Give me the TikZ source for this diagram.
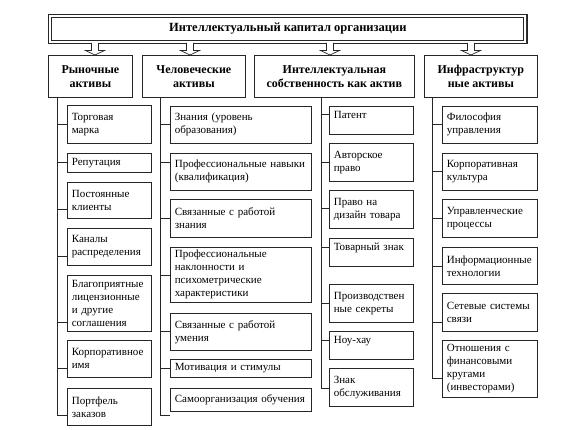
\documentclass[tikz,border=0pt]{standalone}
\usepackage{fontspec}
\setmainfont{Liberation Serif}
\usetikzlibrary{calc}
\begin{document}
\begin{tikzpicture}[x=1pt,y=-1pt,
  ln/.style={line width=0.7pt, draw=black!85},
  titlebox/.style={ln, draw, anchor=north west, font=\fontsize{12.5}{14}\selectfont\bfseries, inner sep=0pt},
  hdr/.style={ln, draw, anchor=north west, font=\fontsize{12}{14}\selectfont\bfseries, align=center, inner sep=0pt, minimum height=42pt},
  kid/.style={ln, draw, anchor=north west, font=\fontsize{11}{13}\selectfont, align=left, inner xsep=4.5pt, inner ysep=0pt},
  hi/.style={text depth=10.5pt},
  k1/.style={kid, text width=75pt},
  k2/.style={kid, text width=132pt},
  k3/.style={kid, text width=75pt},
  k4/.style={kid, text width=86pt},
  blockarrow/.pic={\draw[ln, fill=white] (-3.5,0) -- (-3.5,7.5) -- (-9.5,7.5) -- (0,12) -- (9.5,7.5) -- (3.5,7.5) -- (3.5,0);}
]
\useasboundingbox (0,0) rectangle (576,430);

% title
\node[titlebox, minimum width=479pt, minimum height=29pt] (top) at (48,14) {Интеллектуальный капитал организации};
\draw[ln] ($(top.north west)+(3.5,3.5)$) rectangle ($(top.south east)+(-4.5,-3.5)$);
\draw[line width=1.2pt, black!80] ($(top.north east)+(-1,0)$) -- ($(top.south east)+(-1,0)$);

% headers
\node[hdr, minimum width=84pt] (h1) at (48,55) {Рыночные\\активы};
\node[hdr, minimum width=103pt] (h2) at (142,55) {Человеческие\\активы};
\node[hdr, minimum width=160pt] (h3) at (254,55) {Интеллектуальная\\собственность как актив};
\node[hdr, minimum width=113pt] (h4) at (424,55) {Инфраструктур\\ные активы};

% block arrows
\pic at (95,43) {blockarrow};
\pic at (190,43) {blockarrow};
\pic at (330,43) {blockarrow};
\pic at (471,43) {blockarrow};

% column 1
\node[k1, minimum height=38pt] (b11) at (67,105) {Торговая\\марка};
\node[k1, minimum height=19pt] (b12) at (67,153) {Репутация};
\node[k1, minimum height=36pt] (b13) at (67,182) {Постоянные\\клиенты};
\node[k1, minimum height=37pt] (b14) at (67,228) {Каналы\\распределения};
\node[k1, minimum height=56pt] (b15) at (67,275) {Благоприятные\\лицензионные\\и другие\\соглашения};
\node[k1, minimum height=37pt] (b16) at (67,340) {Корпоративное\\имя};
\node[k1, minimum height=37pt] (b17) at (67,388) {Портфель\\заказов};

% column 2
\node[k2, minimum height=37pt] (b21) at (170,106) {Знания (уровень\\образования)};
\node[k2, minimum height=37pt] (b22) at (170,153) {\mbox{Профессиональные навыки}\\(квалификация)};
\node[k2, minimum height=38pt] (b23) at (170,199) {Связанные с работой\\знания};
\node[k2, minimum height=55pt] (b24) at (170,247) {Профессиональные\\наклонности и\\психометрические\\характеристики};
\node[k2, minimum height=37pt] (b25) at (170,313) {Связанные с работой\\умения};
\node[k2, minimum height=18pt] (b26) at (170,359) {Мотивация и стимулы};
\node[k2, minimum height=23pt] (b27) at (170,388) {\mbox{Самоорганизация обучения}};

% column 3
\node[k3, hi, minimum height=28pt] (b31) at (329,106) {Патент};
\node[k3, minimum height=38pt] (b32) at (329,143) {Авторское\\право};
\node[k3, minimum height=38pt] (b33) at (329,190) {Право на\\дизайн товара};
\node[k3, hi, minimum height=28pt] (b34) at (329,238) {Товарный знак};
\node[k3, minimum height=38pt] (b35) at (329,284) {Производствен\\ные секреты};
\node[k3, hi, minimum height=28pt] (b36) at (329,331) {Ноу-хау};
\node[k3, minimum height=38pt] (b37) at (329,368) {Знак\\обслуживания};

% column 4
\node[k4, minimum height=37pt] (b41) at (442,106) {Философия\\управления};
\node[k4, minimum height=37pt] (b42) at (442,153) {Корпоративная\\культура};
\node[k4, minimum height=38pt] (b43) at (442,199) {Управленческие\\процессы};
\node[k4, minimum height=37pt] (b44) at (442,247) {Информационные\\технологии};
\node[k4, minimum height=38pt] (b45) at (442,293) {Сетевые системы\\связи};
\node[k4, minimum height=57pt] (b46) at (442,340) {Отношения с\\финансовыми\\кругами\\(инвесторами)};

% trunks
\coordinate (t1) at (h1.south west -| 57,0);
\coordinate (t2) at (h2.south west -| 160,0);
\coordinate (t3) at (h3.south west -| 321,0);
\coordinate (t4) at (h4.south west -| 432,0);

\draw[ln] (t1) |- (b17.west |- 0,415);
\foreach \b/\y in {b11/124,b12/162,b13/209,b14/256,b15/322,b16/368}
  \draw[ln] (t1 |- 0,\y) -- (\b.west |- 0,\y);

\draw[ln] (t2) |- (b27.west |- 0,415);
\foreach \b/\y in {b21/124,b22/162,b23/218,b24/275,b25/331,b26/368}
  \draw[ln] (t2 |- 0,\y) -- (\b.west |- 0,\y);

\draw[ln] (t3) |- (b37.west |- 0,388);
\foreach \b/\y in {b31/114,b32/162,b33/208,b34/247,b35/303,b36/340}
  \draw[ln] (t3 |- 0,\y) -- (\b.west |- 0,\y);

\draw[ln] (t4) |- (b46.west |- 0,378);
\foreach \b/\y in {b41/124,b42/171,b43/218,b44/266,b45/322}
  \draw[ln] (t4 |- 0,\y) -- (\b.west |- 0,\y);
\end{tikzpicture}
\end{document}
